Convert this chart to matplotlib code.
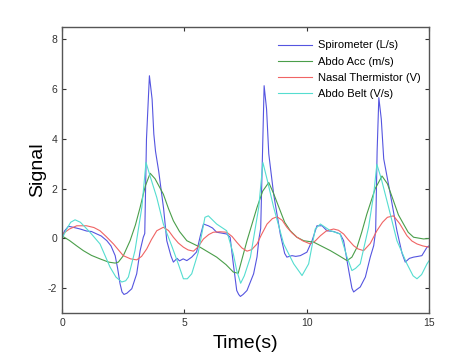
import matplotlib.pyplot as plt

plt.rcParams['font.family'] = ['Liberation Sans', 'DejaVu Sans']
plt.rcParams['axes.unicode_minus'] = False

# Spirometer (L/s)
spiro_t = [0.0, 0.1, 0.26, 0.45, 0.74, 1.0, 1.2, 1.42, 1.6, 1.83, 2.0, 2.17, 2.27, 2.37, 2.45, 2.53, 2.65,
           2.85, 3.05, 3.19, 3.32, 3.38, 3.45, 3.57, 3.68, 3.75, 3.82, 3.95, 4.15, 4.28, 4.45, 4.55, 4.7,
           4.8, 4.95, 5.1, 5.3, 5.5, 5.65, 5.78, 5.98, 6.15, 6.32, 6.5, 6.73, 6.87, 7.0, 7.14, 7.22, 7.29,
           7.4, 7.56, 7.83, 7.97, 8.05, 8.12, 8.26, 8.36, 8.45, 8.65, 8.92, 9.1, 9.19, 9.4, 9.55, 9.74,
           10.01, 10.22, 10.42, 10.63, 10.83, 11.1, 11.37, 11.51, 11.72, 11.85, 11.92, 12.05, 12.19, 12.4,
           12.6, 12.74, 12.82, 12.88, 12.95, 13.05, 13.15, 13.42, 13.69, 13.9, 14.03, 14.2, 14.37, 14.55,
           14.71, 14.92, 15.0]
spiro_v = [0.05, 0.3, 0.49, 0.45, 0.38, 0.3, 0.28, 0.18, 0.1, -0.09, -0.3, -0.69, -1.2, -1.82, -2.15, -2.25, -2.2,
           -2.02, -1.42, -0.49, 0.05, 0.2, 4.0, 6.54, 5.6, 4.2, 3.5, 2.7, 1.2, -0.09, -0.7, -0.95, -0.8,
           -0.9, -0.82, -0.89, -0.75, -0.54, 0.1, 0.58, 0.51, 0.42, 0.25, 0.22, 0.18, 0.05, -1.02, -2.09, -2.25, -2.33,
           -2.25, -2.09, -1.42, -0.74, 0.0, 0.4, 6.14, 5.2, 3.4, 1.78, 0.18, -0.6, -0.75, -0.69, -0.72, -0.69,
           -0.55, -0.09, 0.51, 0.51, 0.31, 0.28, 0.18, -0.09, -1.29, -2.0, -2.15, -2.05, -1.95, -1.55,
           -0.75, -0.29, 0.3, 3.5, 5.66, 4.8, 3.2, 1.78, 0.31, -0.6, -0.95, -0.8, -0.75, -0.72,
           -0.69, -0.35, -0.3]

# Abdo Acc (m/s)
acc_t = [0.0, 0.3, 0.6, 0.87, 1.2, 1.55, 1.9, 2.17, 2.3, 2.5, 2.78, 3.0, 3.19, 3.4, 3.6, 3.8, 4.14,
         4.35, 4.55, 4.8, 5.1, 5.64, 6.32, 6.7, 7.0, 7.2, 7.35, 7.56, 7.97, 8.2, 8.45, 8.65, 8.92, 9.1,
         9.33, 9.6, 9.88, 10.29, 10.97, 11.3, 11.65, 11.85, 12.06, 12.25, 12.46, 12.8, 13.08, 13.3,
         13.55, 13.75, 13.96, 14.15, 14.37, 14.78, 15.0]
acc_v = [0.1, -0.08, -0.3, -0.49, -0.68, -0.82, -0.95, -0.99, -0.95, -0.7, -0.09, 0.55, 1.25, 2.1, 2.62, 2.4, 1.78,
         1.2, 0.71, 0.28, -0.09, -0.35, -0.75, -1.05, -1.35, -1.4, -0.85, -0.09, 1.25, 1.9, 2.25, 1.8, 1.11, 0.65,
         0.31, 0.05, -0.09, -0.15, -0.49, -0.68, -0.89, -0.75, -0.35, 0.25, 0.98, 2.0, 2.51, 2.2,
         1.51, 0.95, 0.58, 0.25, 0.05, -0.02, 0.0]

# Nasal Thermistor (V)
nasal_t = [0.0, 0.3, 0.6, 1.0, 1.3, 1.55, 1.8, 2.1, 2.5, 2.8, 3.05, 3.25, 3.46, 3.65, 3.87, 4.14, 4.35,
           4.55, 4.75, 4.96, 5.15, 5.37, 5.55, 5.78, 6.0, 6.18, 6.45, 6.73, 6.95, 7.14, 7.35, 7.56, 7.75,
           7.97, 8.15, 8.38, 8.6, 8.79, 9.0, 9.19, 9.4, 9.6, 9.85, 10.15, 10.35, 10.56, 10.8, 11.1,
           11.3, 11.51, 11.7, 11.92, 12.1, 12.33, 12.6, 12.87, 13.1, 13.3, 13.55, 13.8, 14.1, 14.3,
           14.51, 14.75, 15.0]
nasal_v = [0.17, 0.38, 0.51, 0.51, 0.44, 0.31, 0.08, -0.22, -0.69, -0.82, -0.86, -0.72, -0.42, -0.05, 0.31, 0.45, 0.32,
           0.05, -0.18, -0.35, -0.46, -0.51, -0.35, -0.02, 0.16, 0.25, 0.27, 0.25, 0.08, -0.15, -0.38, -0.51, -0.45,
           -0.22, 0.15, 0.58, 0.8, 0.87, 0.73, 0.45, 0.22, 0.05, -0.1, -0.22, -0.1, 0.11, 0.3, 0.38,
           0.33, 0.18, -0.05, -0.29, -0.42, -0.49, -0.2, 0.31, 0.65, 0.85, 0.91, 0.6, 0.11, -0.1,
           -0.22, -0.3, -0.35]

# Abdo Belt (V/s)
belt_t = [0.0, 0.2, 0.35, 0.53, 0.75, 1.14, 1.55, 1.96, 2.2, 2.44, 2.6, 2.71, 2.98, 3.26, 3.43, 3.6,
          3.87, 4.14, 4.48, 4.75, 4.96, 5.12, 5.3, 5.57, 5.84, 5.98, 6.32, 6.73, 7.0, 7.14, 7.3, 7.45, 7.7,
          8.04, 8.21, 8.4, 8.65, 9.06, 9.47, 9.81, 10.08, 10.35, 10.56, 10.97, 11.37, 11.65, 11.85,
          12.0, 12.19, 12.53, 12.74, 12.87, 13.05, 13.35, 13.69, 14.1, 14.35, 14.51, 14.7, 14.92, 15.0]
belt_v = [0.0, 0.4, 0.65, 0.75, 0.65, 0.25, -0.22, -1.15, -1.55, -1.75, -1.7, -1.55, -0.49, 1.25, 3.06, 2.5,
          1.65, 0.58, -0.29, -1.02, -1.62, -1.62, -1.42, -0.55, 0.85, 0.91, 0.58, 0.31, -0.62, -1.29, -1.8, -1.5, -0.75,
          1.25, 3.05, 2.3, 1.25, -0.22, -1.02, -1.49, -1.02, 0.38, 0.58, 0.31, 0.18, -0.75, -1.29,
          -1.2, -1.02, 0.45, 1.78, 2.98, 2.4, 1.25, -0.09, -1.02, -1.5, -1.62, -1.45, -1.02, -0.9]

fig = plt.figure(figsize=(4.74, 3.55), dpi=100)
ax = fig.add_axes([0.131, 0.118, 0.774, 0.806])

ax.plot(spiro_t, spiro_v, color='#5555e0', lw=0.8, label='Spirometer (L/s)')
ax.plot(acc_t, acc_v, color='#4a9e4a', lw=0.8, label='Abdo Acc (m/s)')
ax.plot(nasal_t, nasal_v, color='#f06464', lw=0.8, label='Nasal Thermistor (V)')
ax.plot(belt_t, belt_v, color='#55ddd0', lw=0.8, label='Abdo Belt (V/s)')

ax.set_xlim(0, 15)
ax.set_ylim(-3, 8.5)
ax.set_xticks([0, 5, 10, 15])
ax.set_yticks([-2, 0, 2, 4, 6, 8])
ax.tick_params(direction='in', top=True, right=True, labelsize=7.5, length=3, colors='#333333')
for s in ax.spines.values():
    s.set_color('#555555')
    s.set_linewidth(1.0)

ax.set_xlabel('Time(s)', fontsize=14, labelpad=5)
ax.set_ylabel('Signal', fontsize=14, labelpad=1)

ax.legend(loc='upper right', frameon=False, fontsize=8, handlelength=3.0, handletextpad=0.6,
          labelspacing=0.55, borderaxespad=0.3, bbox_to_anchor=(1.0, 0.98))

fig.savefig('out.png', dpi=100)
